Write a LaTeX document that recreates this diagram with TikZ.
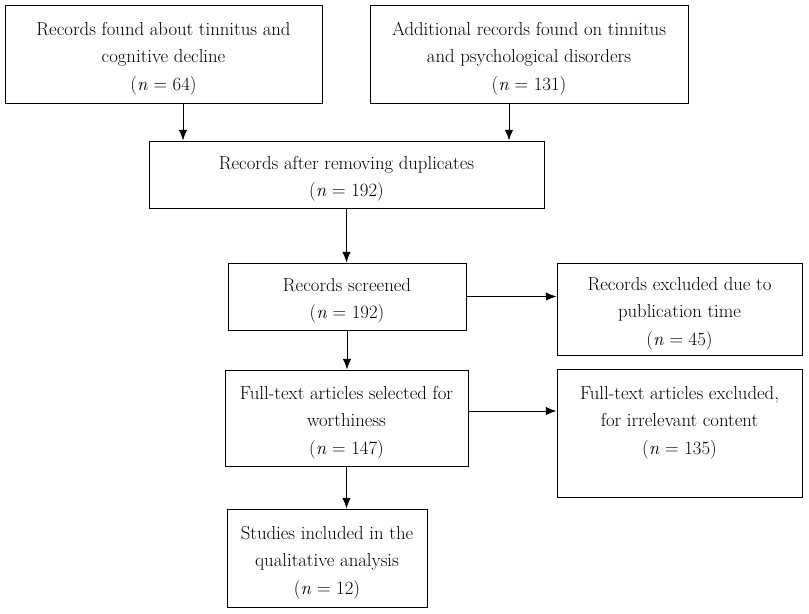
\documentclass[tikz,border=0pt]{standalone}
\usepackage{amsmath}
\usepackage{tikz}
\usetikzlibrary{arrows.meta}

\begin{document}
\begin{tikzpicture}[x=0.03cm, y=-0.03cm,
        box/.style={draw, line width=0.8pt, align=center, inner sep=2pt,
            font=\fontsize{16}{23.5}\selectfont},
        twolines/.style={box, text height=1.49cm},
        threelines/.style={box, text height=2.32cm},
        arr/.style={line width=0.8pt, -{Latex[length=3.2mm, width=2.5mm]}}]

        \useasboundingbox (0, 0) rectangle (809, 613);

        % boxes
        \node[threelines, minimum width=9.51cm, minimum height=2.94cm] (found) at (163.5, 54)
            {Records found about tinnitus and\\ cognitive decline\\ (\textit{n} = 64)};
        \node[threelines, minimum width=9.54cm, minimum height=2.94cm] (additional) at (529, 54)
            {Additional records found on tinnitus\\ and psychological disorders\\ (\textit{n} = 131)};
        \node[twolines, minimum width=11.85cm, minimum height=2.01cm] (nodup) at (346.5, 174.5)
            {Records after removing duplicates\\ (\textit{n} = 192)};
        \node[twolines, minimum width=7.14cm, minimum height=2.01cm] (screened) at (347, 296.5)
            {Records screened\\ (\textit{n} = 192)};
        \node[threelines, minimum width=7.35cm, minimum height=2.76cm] (timeout) at (679.5, 309)
            {Records excluded due to\\ publication time\\ (\textit{n} = 45)};
        \node[threelines, minimum width=7.29cm, minimum height=2.88cm] (fulltext) at (346.5, 418)
            {Full-text articles selected for\\ worthiness\\ (\textit{n} = 147)};
        \node[threelines, minimum width=7.35cm, minimum height=3.84cm, text depth=1.05cm] (irrelevant) at (679.5, 433)
            {Full-text articles excluded,\\ for irrelevant content\\ (\textit{n} = 135)};
        \node[threelines, minimum width=6cm, minimum height=2.94cm] (included) at (327, 558)
            {Studies included in the\\ qualitative analysis\\ (\textit{n} = 12)};

        % arrows
        \draw[arr] ([xshift=0.585cm]found.south) -- ([xshift=0.585cm]found.south |- nodup.north);
        \draw[arr] ([xshift=-0.6cm]additional.south) -- ([xshift=-0.6cm]additional.south |- nodup.north);
        \draw[arr] (nodup.south) -- (nodup.south |- screened.north);
        \draw[arr] (screened.east) -- (screened.east -| timeout.west);
        \draw[arr] (screened.south) -- (screened.south |- fulltext.north);
        \draw[arr] ([yshift=0.21cm]fulltext.east) -- ([yshift=0.21cm]fulltext.east -| irrelevant.west);
        \draw[arr] (fulltext.south) -- (fulltext.south |- included.north);
    \end{tikzpicture}
\end{document}
